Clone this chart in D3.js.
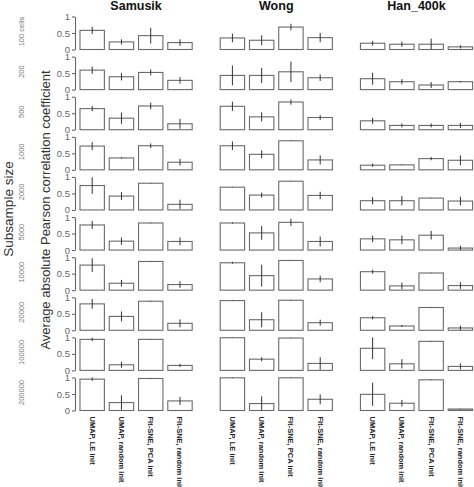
<!DOCTYPE html>
<html>
<head>
<meta charset="utf-8">
<script src="https://cdn.jsdelivr.net/npm/d3@7"></script>
<style>
body{margin:0;background:#fff;}
svg{display:block;font-family:"Liberation Sans",Arial,Helvetica,sans-serif;}
</style>
</head>
<body>
<svg width="474" height="487"></svg>
<script>
// chart values
var datasets = ['Samusik','Wong','Han_400k'];
var sizes = ['100 cells','200','500','1000','2000','5000','10000','20000','100000','200000'];
var methods = ['UMAP, LE init','UMAP, random init','FIt-SNE, PCA init','FIt-SNE, random init'];
var yTicks = [0,0.5,1];

var samusikMean = [[0.58,0.23,0.42,0.21],[0.59,0.39,0.52,0.28],[0.64,0.35,0.72,0.18],[0.72,0.36,0.73,0.23],[0.74,0.42,0.81,0.17],
                   [0.76,0.27,0.82,0.26],[0.76,0.21,0.87,0.17],[0.80,0.42,0.88,0.21],[0.94,0.17,0.94,0.15],[0.95,0.24,0.97,0.29]];
var samusikErr  = [[0.11,0.08,0.24,0.10],[0.11,0.11,0.09,0.10],[0.08,0.17,0.10,0.15],[0.12,0.02,0.07,0.10],[0.25,0.12,0.01,0.14],
                   [0.12,0.11,0.01,0.12],[0.21,0.10,0.01,0.10],[0.15,0.15,0.01,0.12],[0.05,0.09,0.01,0.05],[0.05,0.22,0.01,0.12]];
var wongMean = [[0.35,0.28,0.68,0.36],[0.43,0.43,0.54,0.36],[0.71,0.39,0.84,0.37],[0.73,0.47,0.88,0.30],[0.69,0.45,0.87,0.44],
                [0.82,0.52,0.84,0.26],[0.83,0.44,0.90,0.34],[0.90,0.32,0.91,0.23],[0.99,0.34,0.98,0.21],[0.99,0.21,0.99,0.34]];
var wongErr  = [[0.13,0.15,0.10,0.14],[0.30,0.23,0.31,0.10],[0.14,0.14,0.08,0.07],[0.13,0.12,0.01,0.14],[0.01,0.08,0.01,0.11],
                [0.02,0.21,0.11,0.15],[0.03,0.33,0.01,0.10],[0.01,0.23,0.01,0.09],[0.01,0.06,0.01,0.19],[0.01,0.22,0.01,0.15]];
var hanMean = [[0.19,0.16,0.16,0.08],[0.33,0.24,0.14,0.24],[0.27,0.13,0.13,0.13],[0.14,0.15,0.34,0.29],[0.28,0.28,0.36,0.27],
               [0.34,0.31,0.45,0.06],[0.56,0.13,0.52,0.14],[0.38,0.13,0.69,0.07],[0.67,0.20,0.88,0.12],[0.49,0.22,0.93,0.045]];
var hanErr  = [[0.07,0.08,0.17,0.05],[0.18,0.08,0.09,0.02],[0.09,0.06,0.06,0.08],[0.05,0.01,0.05,0.15],[0.11,0.14,0.01,0.13],
               [0.10,0.13,0.13,0.07],[0.06,0.10,0.01,0.10],[0.05,0.03,0.01,0.07],[0.33,0.14,0.01,0.09],[0.35,0.10,0.01,0.01]];

var means = [samusikMean, wongMean, hanMean];
var errs = [samusikErr, wongErr, hanErr];

var svg = d3.select('svg');

// layout
var colScale = d3.scaleBand().domain(datasets).range([80,472.6]).paddingInner(0.2);
var rowZero = d3.scaleLinear().domain([0,sizes.length-1]).range([49.5,410.5]);
var panelH = 33;

drawTitles();
datasets.forEach(function(ds,c){
    sizes.forEach(function(sz,r){
        drawPanel(c,r);
    });
});
drawMethodLabels();

function drawTitles(){
    svg.selectAll('.colTitle')
        .data(datasets)
        .enter()
        .append('text')
        .attr('class','colTitle')
        .attr('text-anchor','middle')
        .attr('x',function(d){return colScale(d)+colScale.bandwidth()/2;})
        .attr('y',10)
        .style('font-weight','bold')
        .style('font-size','12.5px')
        .style('fill','#111')
        .text(function(d){return d;});

    svg.selectAll('.rowLabel')
        .data(sizes)
        .enter()
        .append('text')
        .attr('class','rowLabel')
        .attr('text-anchor','middle')
        .attr('transform',function(d,i){return 'translate(24,'+(rowZero(i)-18)+') rotate(-90)';})
        .style('font-size','7.5px')
        .style('fill','#777')
        .text(function(d){return d;});

    svg.append('text')
        .attr('text-anchor','middle')
        .attr('transform','translate(13,209) rotate(-90)')
        .style('font-size','13.5px')
        .style('fill','#333')
        .text('Subsample size');

    svg.append('text')
        .attr('text-anchor','middle')
        .attr('transform','translate(50,210) rotate(-90)')
        .style('font-size','13px')
        .style('fill','#333')
        .text('Average absolute Pearson correlation coefficient');
}

function drawPanel(c,r){
    var x0 = colScale(datasets[c]);
    var zero = rowZero(r);
    var x = d3.scaleBand().domain(methods).range([x0,x0+colScale.bandwidth()]).paddingInner(1/6);
    var y = d3.scaleLinear().domain([0,1]).range([zero,zero-panelH]);
    var rows = methods.map(function(m,i){
        return {m:m, v:means[c][r][i], e:errs[c][r][i]};
    });
    var g = svg.append('g').attr('class','panel');

    if(c==0){
        var ax = g.append('g')
            .attr('transform','translate('+(x0-5)+',0)')
            .call(d3.axisLeft(y).tickValues(yTicks).tickSize(3).tickSizeOuter(0).tickFormat(d3.format('')));
        ax.attr('font-family',null).attr('font-size',null);
        ax.select('.domain').style('stroke','#666').style('stroke-width','1.1px');
        ax.selectAll('.tick line').style('stroke','#666').style('stroke-width','1.1px');
        ax.selectAll('.tick text')
            .attr('x',-5)
            .style('font-size','9.5px')
            .style('fill','#666');
    }

    g.selectAll('rect')
        .data(rows)
        .enter()
        .append('rect')
        .attr('x',function(d){return x(d.m);})
        .attr('y',function(d){return y(d.v);})
        .attr('width',x.bandwidth())
        .attr('height',function(d){return y(0)-y(d.v);})
        .style('fill',function(d){return d.v<0.05 ? '#bbb' : '#fff';})
        .style('stroke','#6a6a6a')
        .style('stroke-width','1.1px');

    g.selectAll('line.err')
        .data(rows)
        .enter()
        .append('line')
        .attr('class','err')
        .attr('x1',function(d){return x(d.m)+x.bandwidth()/2;})
        .attr('x2',function(d){return x(d.m)+x.bandwidth()/2;})
        .attr('y1',function(d){return y(Math.min(1,d.v+d.e));})
        .attr('y2',function(d){return y(Math.max(0,d.v-d.e));})
        .style('stroke','#333')
        .style('stroke-width','1px');
}

function drawMethodLabels(){
    datasets.forEach(function(ds){
        var x0 = colScale(ds);
        var x = d3.scaleBand().domain(methods).range([x0,x0+colScale.bandwidth()]).paddingInner(1/6);
        svg.selectAll('.mLabel'+ds)
            .data(methods)
            .enter()
            .append('text')
            .attr('transform',function(d){return 'translate('+(x(d)+x.bandwidth()/2-2.5)+','+(rowZero(sizes.length-1)+6)+') rotate(90)';})
            .style('font-size','7.5px')
            .style('font-weight','bold')
            .style('fill','#222')
            .text(function(d){return d;});
    });
}
</script>
</body>
</html>
